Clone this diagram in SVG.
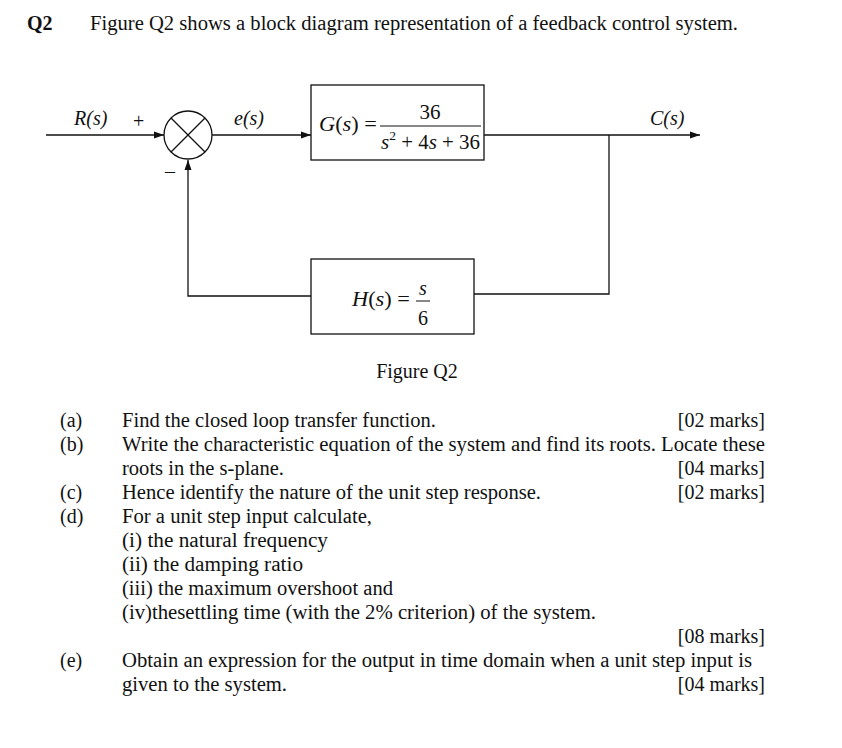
<svg xmlns="http://www.w3.org/2000/svg" width="842" height="748" viewBox="0 0 842 748">
<style>
text{font-family:"Liberation Serif","Times New Roman",serif;fill:#111}
.t{font-size:20px}
.d{font-size:20px}
.i{font-style:italic}
.ln{stroke:#111;stroke-width:1.3;fill:none}
.box{stroke:#111;stroke-width:1.3;fill:#fff}
</style>
<defs>
<marker id="ar" viewBox="0 0 10 10" refX="10" refY="5" markerWidth="10" markerHeight="10" markerUnits="userSpaceOnUse" orient="auto"><path d="M0,1.5L10,5L0,8.5z" fill="#111"/></marker>
</defs>
<rect width="842" height="748" fill="#fff"/>
<text x="27" y="30" style="font-size:20px;font-weight:bold">Q2</text>
<text x="90" y="30" style="font-size:20px" textLength="648" lengthAdjust="spacingAndGlyphs">Figure Q2 shows a block diagram representation of a feedback control system.</text>

<g id="connectors">
<line class="ln" x1="46" y1="135" x2="164" y2="135" marker-end="url(#ar)"/>
<line class="ln" x1="212" y1="135" x2="311" y2="135" marker-end="url(#ar)"/>
<line class="ln" x1="484" y1="135" x2="700" y2="135" marker-end="url(#ar)"/>
<polyline class="ln" points="609,135 609,294 474,294"/>
<polyline class="ln" points="311,296 188,296 188,160" marker-end="url(#ar)"/>
</g>

<g id="sum">
<circle class="box" cx="188" cy="135" r="24"/>
<line class="ln" x1="171" y1="118" x2="205" y2="152"/>
<line class="ln" x1="205" y1="118" x2="171" y2="152"/>
<text x="133" y="128" class="d">+</text>
<text x="165" y="178" class="d">–</text>
</g>
<text x="74" y="125" class="d i">R(s)</text>
<text x="234" y="125" class="d i">e(s)</text>
<text x="650" y="125" class="d i">C(s)</text>

<g id="G">
<rect class="box" x="311" y="85" width="173" height="75"/>
<text x="319" y="131" class="d" textLength="58" lengthAdjust="spacingAndGlyphs"><tspan class="i">G</tspan>(<tspan class="i">s</tspan>) =</text>
<text x="430" y="119" class="d" text-anchor="middle" style="font-size:21px">36</text>
<line class="ln" x1="380" y1="126" x2="481" y2="126" style="stroke-width:1"/>
<text x="381" y="149" class="d" textLength="99" lengthAdjust="spacingAndGlyphs"><tspan class="i">s</tspan><tspan dy="-9" style="font-size:13px">2</tspan><tspan dy="9"> + 4</tspan><tspan class="i">s</tspan> + 36</text>
</g>

<g id="H">
<rect class="box" x="311" y="259" width="163" height="75"/>
<text x="352" y="306" class="d" textLength="58" lengthAdjust="spacingAndGlyphs"><tspan class="i">H</tspan>(<tspan class="i">s</tspan>) =</text>
<text x="423" y="295" class="d i" text-anchor="middle">s</text>
<line class="ln" x1="416" y1="301" x2="430" y2="301" style="stroke-width:1"/>
<text x="423" y="325" class="d" text-anchor="middle">6</text>
</g>

<text x="417" y="378" class="t" text-anchor="middle">Figure Q2</text>

<g>
<text x="60" y="427" class="t">(a)</text>
<text x="122" y="427" class="t" textLength="314" lengthAdjust="spacingAndGlyphs">Find the closed loop transfer function.</text>
<text x="765" y="427" class="t" text-anchor="end">[02 marks]</text>
<text x="60" y="451" class="t">(b)</text>
<text x="122" y="451" class="t" textLength="643" lengthAdjust="spacingAndGlyphs">Write the characteristic equation of the system and find its roots. Locate these</text>
<text x="122" y="475" class="t" textLength="162" lengthAdjust="spacingAndGlyphs">roots in the s-plane.</text>
<text x="765" y="475" class="t" text-anchor="end">[04 marks]</text>
<text x="60" y="499" class="t">(c)</text>
<text x="122" y="499" class="t" textLength="419" lengthAdjust="spacingAndGlyphs">Hence identify the nature of the unit step response.</text>
<text x="765" y="499" class="t" text-anchor="end">[02 marks]</text>
<text x="60" y="523" class="t">(d)</text>
<text x="122" y="523" class="t" textLength="250" lengthAdjust="spacingAndGlyphs">For a unit step input calculate,</text>
<text x="122" y="547" class="t" textLength="206" lengthAdjust="spacingAndGlyphs">(i)  the natural frequency</text>
<text x="122" y="571" class="t" textLength="181" lengthAdjust="spacingAndGlyphs">(ii)  the damping ratio</text>
<text x="122" y="595" class="t" textLength="271" lengthAdjust="spacingAndGlyphs">(iii) the maximum overshoot and</text>
<text x="122" y="619" class="t" textLength="474" lengthAdjust="spacingAndGlyphs">(iv)thesettling time (with the 2% criterion) of the system.</text>
<text x="765" y="643" class="t" text-anchor="end">[08 marks]</text>
<text x="60" y="667" class="t">(e)</text>
<text x="122" y="667" class="t" textLength="630" lengthAdjust="spacingAndGlyphs">Obtain an expression for the output in time domain when a unit step input is</text>
<text x="122" y="691" class="t" textLength="165" lengthAdjust="spacingAndGlyphs">given to the system.</text>
<text x="765" y="691" class="t" text-anchor="end">[04 marks]</text>
</g>
</svg>
